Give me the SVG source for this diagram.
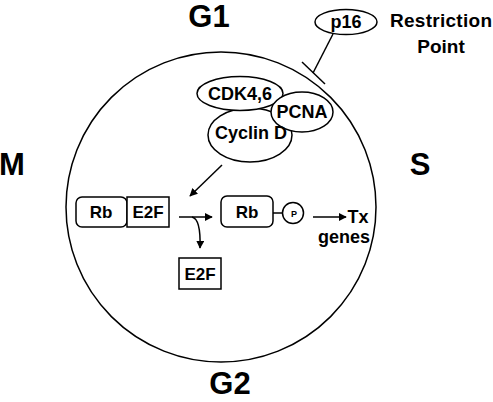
<svg xmlns="http://www.w3.org/2000/svg" width="493" height="402" viewBox="0 0 493 402">
<defs>
<style>
text{font-family:"Liberation Sans",Arial,sans-serif;font-weight:bold;fill:#000;text-anchor:middle}
.big{font-size:31px}
.lbl{font-size:18px}
.bx{font-size:17px}
.box{fill:#fff;stroke:#000;stroke-width:1.5}
.ln{fill:none;stroke:#000;stroke-width:1.5}
</style>
<marker id="ah" viewBox="0 0 10 10" refX="9" refY="5" markerWidth="8" markerHeight="8" markerUnits="userSpaceOnUse" orient="auto">
<path d="M0,0 L10,5 L0,10 z" fill="#000"/>
</marker>
</defs>
<rect width="493" height="402" fill="#fff"/>
<g id="phases">
<text class="big" x="209" y="27">G1</text>
<text class="big" x="230" y="394">G2</text>
<text class="big" x="12" y="175">M</text>
<text class="big" x="420" y="175">S</text>
</g>
<g id="cell"><circle class="ln" cx="221" cy="207" r="155"/></g>
<g id="p16"><ellipse class="box" cx="346" cy="22" rx="31" ry="12.5"/><text class="lbl" x="346" y="28">p16</text></g>
<g id="restriction"><text style="font-size:19px" x="441" y="27" textLength="102" lengthAdjust="spacing">Restriction</text><text style="font-size:19px" x="441" y="53">Point</text></g>
<g id="cyclinD"><ellipse class="box" cx="250" cy="135" rx="42" ry="27"/></g>
<g id="cdk"><ellipse class="box" cx="240" cy="93.5" rx="43" ry="17"/><text class="lbl" x="240" y="100">CDK4,6</text></g>
<g id="pcna"><ellipse class="box" cx="302" cy="112" rx="31" ry="20"/><text class="lbl" x="302" y="118">PCNA</text></g>
<g id="cyclinDlabel"><text class="lbl" x="251" y="139">Cyclin D</text></g>
<g id="rbE2F">
<rect class="box" x="76" y="197" width="51" height="30" rx="6"/>
<text class="bx" x="101" y="218">Rb</text>
<rect class="box" x="127" y="197" width="42" height="30"/>
<text class="bx" x="148" y="218">E2F</text>
</g>
<g id="e2f"><rect class="box" x="179" y="258" width="42" height="31"/><text class="bx" x="200" y="280">E2F</text></g>
<g id="rbP">
<rect class="box" x="221" y="196" width="52" height="31" rx="6"/>
<text class="bx" x="247" y="218">Rb</text>
<circle class="box" cx="293" cy="213" r="10.5"/>
<text style="font-size:9px" x="294" y="217">P</text>
</g>
<g id="tx"><text class="lbl" x="358" y="223">Tx</text><text class="lbl" x="344" y="243">genes</text></g>
<g id="connectors">
<line class="ln" x1="333" y1="34" x2="313" y2="73"/>
<line class="ln" x1="302" y1="62" x2="325" y2="84"/>
<line class="ln" x1="222" y1="165" x2="190" y2="196" marker-end="url(#ah)"/>
<line class="ln" x1="179" y1="217" x2="212" y2="217" marker-end="url(#ah)"/>
<path class="ln" d="M192,217 Q201,219 200,248" marker-end="url(#ah)"/>
<line class="ln" x1="273" y1="213" x2="282.5" y2="213"/>
<line class="ln" x1="313" y1="217" x2="346" y2="217" marker-end="url(#ah)"/>
</g>
</svg>
